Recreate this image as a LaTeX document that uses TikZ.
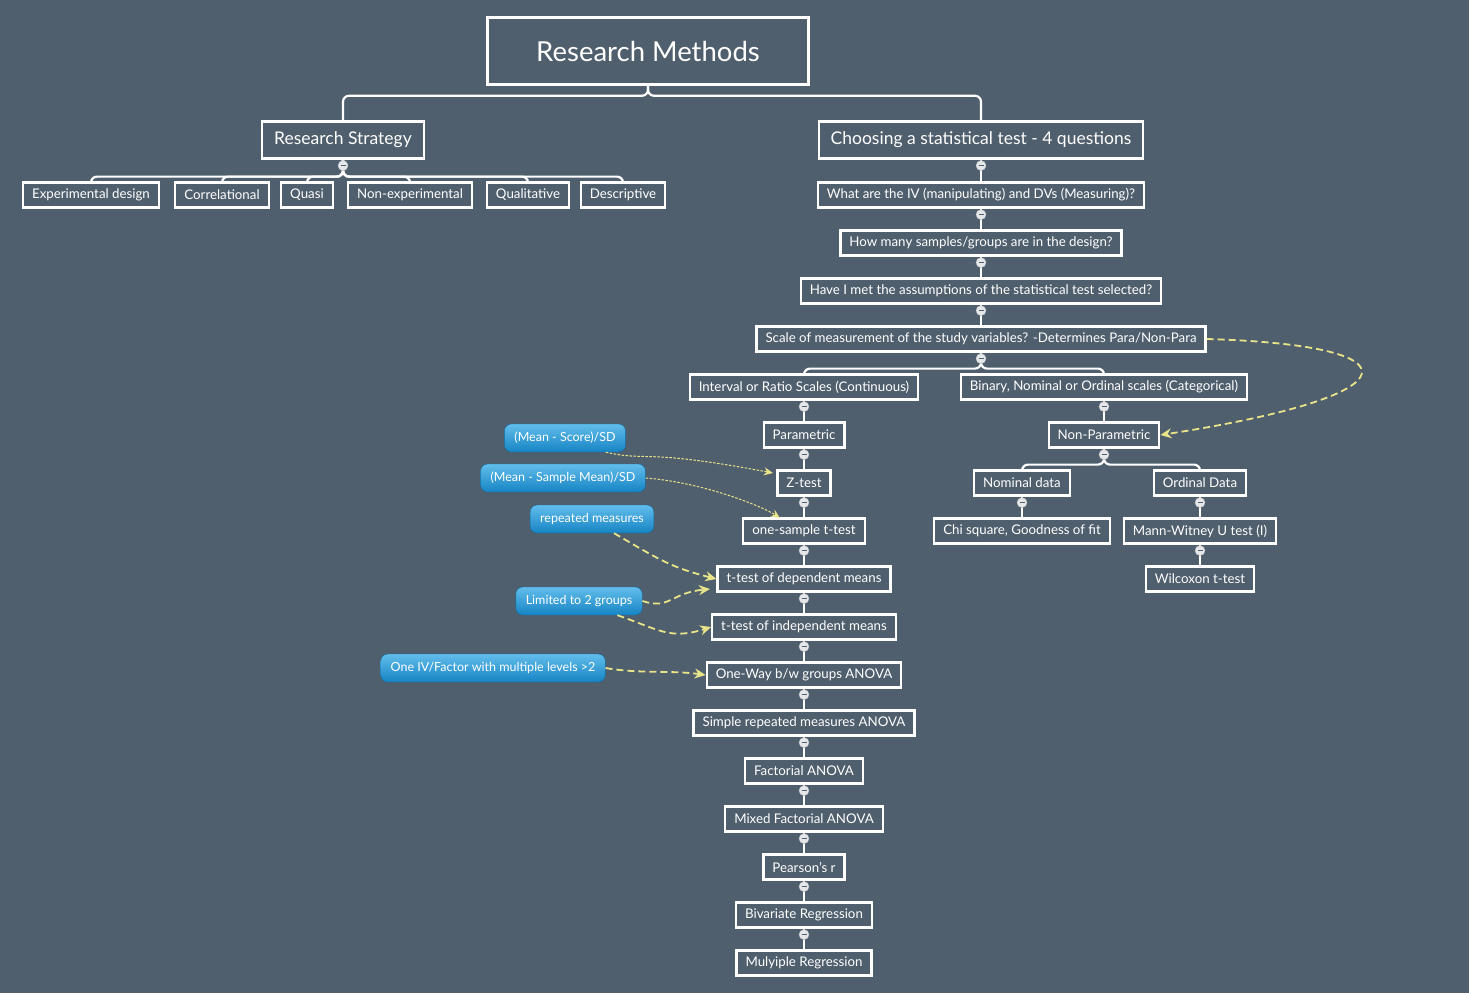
\documentclass[tikz,border=0pt]{standalone}
\usepackage{fontspec}
\setmainfont{Lato}
\usetikzlibrary{calc,arrows.meta,shadings}
\definecolor{bg}{HTML}{505F6D}
\definecolor{yl}{HTML}{E8E48A}
\definecolor{blt}{HTML}{62BDEB}
\definecolor{bdk}{HTML}{1684C4}
\tikzset{
 box/.style={draw=white,line width=2.2pt,text=white,font=\fontsize{13.3}{15}\selectfont,inner xsep=9pt,minimum height=25pt,inner ysep=2pt},
 big/.style={box,font=\fontsize{17.5}{20}\selectfont,minimum height=37pt,inner xsep=12pt},
 huge/.style={box,line width=2.5pt,font=\fontsize{27.5}{30}\selectfont,minimum height=67pt,minimum width=321pt},
 call/.style={rounded corners=7pt,draw=bdk!80!black,top color=blt,bottom color=bdk,text=white,font=\fontsize{12.5}{14}\selectfont,minimum height=28pt,inner xsep=10pt},
 edge/.style={draw=white,line width=2.2pt,rounded corners=6pt},
 tog/.style={circle,fill=white!85!bg,draw=white!60!bg,inner sep=0pt,minimum size=10pt,path picture={\draw[bg,line width=1pt] ($(path picture bounding box.center)+(-2.5,0)$)--++(5,0);}},
 yarr/.style={draw=yl,dash pattern=on 7pt off 4pt,line width=1.8pt,-{Stealth[length=11pt,width=10pt]}},
 tarr/.style={draw=yl,dash pattern=on 2.5pt off 1.5pt,line width=1pt,-{Stealth[length=9pt,width=8pt]}},
}
\newcommand\tog[1]{\node[tog] at ($(#1.south)+(0,6)$) {};}
\begin{document}
\begin{tikzpicture}[x=1pt,y=-1pt]
\fill[bg] (0,0) rectangle (1469,993);
\useasboundingbox (0,0) rectangle (1469,993);
\node[huge] (rm) at (648,51) {Research Methods};
\node[big] (rs) at (343,140) {Research Strategy};
\node[big] (cs) at (981,140) {Choosing a statistical test - 4 questions};
\node[box] (e1) at (91,195) {Experimental design};
\node[box] (e2) at (222,195) {Correlational};
\node[box] (e3) at (307,195) {Quasi};
\node[box] (e4) at (410,195) {Non-experimental};
\node[box] (e5) at (528,195) {Qualitative};
\node[box] (e6) at (623,195) {Descriptive};
\node[box] (q1) at (981,195) {What are the IV (manipulating) and DVs (Measuring)?};
\node[box] (q2) at (981,243) {How many samples/groups are in the design?};
\node[box] (q3) at (981,291) {Have I met the assumptions of the statistical test selected?};
\node[box] (q4) at (981,339) {Scale of measurement of the study variables? -Determines Para/Non-Para};
\node[box] (ir) at (804,387) {Interval or Ratio Scales (Continuous)};
\node[box] (bn) at (1104,387) {Binary, Nominal or Ordinal scales (Categorical)};
\node[box] (pa) at (804,435) {Parametric};
\node[box] (np) at (1104,435) {Non-Parametric};
\node[box] (zt) at (804,483) {Z-test};
\node[box] (nd) at (1022,483) {Nominal data};
\node[box] (od) at (1200,483) {Ordinal Data};
\node[box] (os) at (804,531) {one-sample t-test};
\node[box] (cq) at (1022,531) {Chi square, Goodness of fit};
\node[box] (mw) at (1200,531) {Mann-Witney U test (I)};
\node[box] (td) at (804,579) {t-test of dependent means};
\node[box] (wx) at (1200,579) {Wilcoxon t-test};
\node[box] (ti) at (804,627) {t-test of independent means};
\node[box] (ow) at (804,675) {One-Way b/w groups ANOVA};
\node[box] (sr) at (804,723) {Simple repeated measures ANOVA};
\node[box] (fa) at (804,771) {Factorial ANOVA};
\node[box] (mf) at (804,819) {Mixed Factorial ANOVA};
\node[box] (pr) at (804,867) {Pearson's r};
\node[box] (br) at (804,915) {Bivariate Regression};
\node[box] (mr) at (804,963) {Mulyiple Regression};
% callouts
\node[call] (c1) at (565,438) {(Mean - Score)/SD};
\node[call] (c2) at (563,478) {(Mean - Sample Mean)/SD};
\node[call] (c3) at (592,519) {repeated measures};
\node[call] (c4) at (579,601) {Limited to 2 groups};
\node[call] (c5) at (493,668) {One IV/Factor with multiple levels >2};
% tree edges
\draw[edge] (rm.south) -- ++(0,10) -| (rs.north);
\draw[edge] (rm.south) -- ++(0,10) -| (cs.north);
\foreach \c in {e1,e2,e3,e4,e5,e6}{\draw[edge] (rs.south) -- ++(0,17) -| (\c.north);}
\draw[edge] (cs.south) -- (q1.north);
\draw[edge] (q1.south) -- (q2.north);
\draw[edge] (q2.south) -- (q3.north);
\draw[edge] (q3.south) -- (q4.north);
\draw[edge] (q4.south) -- ++(0,16) -| (ir.north);
\draw[edge] (q4.south) -- ++(0,16) -| (bn.north);
\draw[edge] (ir.south) -- (pa.north);
\draw[edge] (bn.south) -- (np.north);
\draw[edge] (pa.south) -- (zt.north);
\draw[edge] (np.south) -- ++(0,16) -| (nd.north);
\draw[edge] (np.south) -- ++(0,16) -| (od.north);
\draw[edge] (zt.south) -- (os.north);
\draw[edge] (nd.south) -- (cq.north);
\draw[edge] (od.south) -- (mw.north);
\draw[edge] (mw.south) -- (wx.north);
\draw[edge] (os.south) -- (td.north);
\draw[edge] (td.south) -- (ti.north);
\draw[edge] (ti.south) -- (ow.north);
\draw[edge] (ow.south) -- (sr.north);
\draw[edge] (sr.south) -- (fa.north);
\draw[edge] (fa.south) -- (mf.north);
\draw[edge] (mf.south) -- (pr.north);
\draw[edge] (pr.south) -- (br.north);
\draw[edge] (br.south) -- (mr.north);
\foreach \n in {rs,cs,q1,q2,q3,q4,ir,bn,pa,np,zt,nd,od,os,mw,td,ti,ow,sr,fa,mf,pr,br}{\tog{\n}}
% relation arrows
\draw[tarr] ($(c1.south east)+(-20,0)$) .. controls (650,462) and (640,448) .. (773,473);
\draw[tarr] (c2.east) .. controls (700,482) and (760,505) .. (780,518);
\draw[yarr] ($(c3.south east)+(-40,0)$) .. controls (660,560) and (670,567) .. (td.west);
\draw[yarr] (c4.east) .. controls (670,610) and (670,593) .. (710,589);
\draw[yarr] ($(c4.south east)+(-25,0)$) .. controls (660,630) and (670,640) .. (ti.west);
\draw[yarr] (c5.east) .. controls (640,674) and (670,670) .. (ow.west);
\draw[yarr] (q4.east) .. controls (1420,345) and (1420,395) .. (np.east);
\end{tikzpicture}
\end{document}
